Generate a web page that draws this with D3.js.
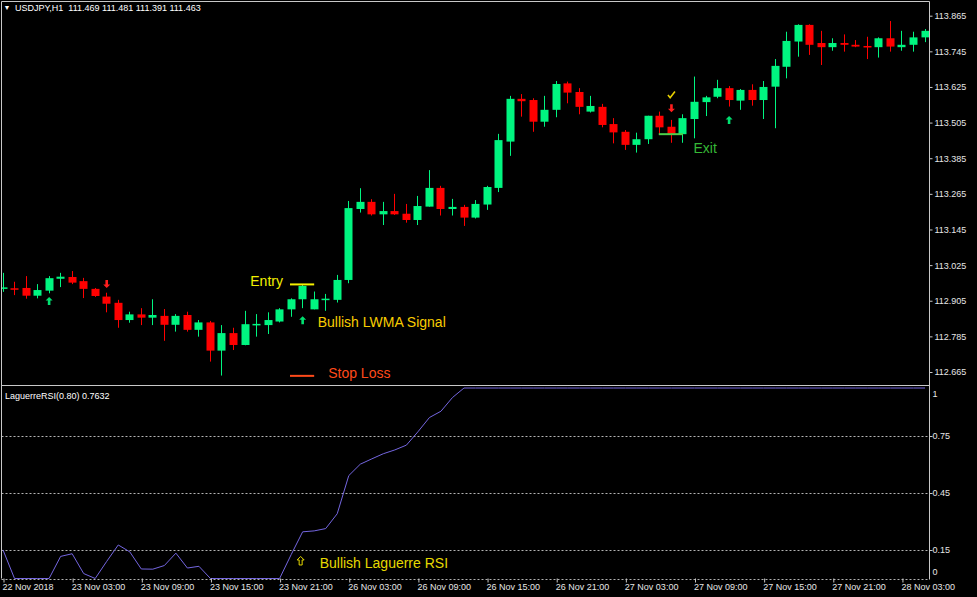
<!DOCTYPE html>
<html><head><meta charset="utf-8">
<script src="https://cdn.jsdelivr.net/npm/d3@7"></script>
<style>
html,body{margin:0;padding:0;background:#000;}
svg{display:block;}
text{font-family:"Liberation Sans",Arial,sans-serif;}
</style></head><body>
<svg id="c" width="977" height="597"></svg>
<script>
// ---------- DATA ----------
const opens = [112.946,112.947,112.948,112.922,112.939,112.979,112.985,112.971,112.945,112.919,
112.898,112.840,112.859,112.848,112.854,112.824,112.857,112.807,112.832,112.737,
112.796,112.756,112.823,112.823,112.835,112.876,112.910,112.876,112.908,112.908,
112.975,113.214,113.238,113.196,113.207,113.198,113.177,113.222,113.285,113.214,
113.221,113.185,113.229,113.285,113.441,113.585,113.581,113.508,113.548,113.637,
113.608,113.542,113.558,113.500,113.474,113.430,113.449,113.528,113.491,113.466,
113.517,113.574,113.592,113.621,113.579,113.615,113.581,113.626,113.693,113.778,
113.834,113.773,113.759,113.773,113.767,113.763,113.759,113.789,113.759,113.767,
113.792];
const highs = [112.999,112.969,112.988,112.961,112.988,112.999,113.005,112.982,112.948,112.932,
112.908,112.868,112.880,112.910,112.877,112.860,112.868,112.840,112.837,112.823,
112.814,112.871,112.860,112.866,112.880,112.913,112.958,112.936,112.928,112.992,
113.241,113.284,113.247,113.238,113.265,113.231,113.258,113.345,113.292,113.248,
113.228,113.244,113.292,113.467,113.595,113.601,113.587,113.595,113.645,113.643,
113.621,113.595,113.568,113.520,113.480,113.471,113.528,113.542,113.514,113.533,
113.660,113.595,113.649,113.628,113.618,113.634,113.645,113.719,113.811,113.836,
113.836,113.814,113.789,113.802,113.783,113.794,113.792,113.847,113.814,113.811,
113.820];
const lows = [112.935,112.924,112.912,112.913,112.930,112.951,112.961,112.914,112.918,112.866,
112.814,112.831,112.823,112.823,112.770,112.801,112.801,112.784,112.700,112.653,
112.739,112.755,112.784,112.793,112.832,112.851,112.880,112.876,112.871,112.899,
112.964,113.202,113.192,113.160,113.194,113.168,113.160,113.222,113.192,113.192,
113.157,113.182,113.211,113.271,113.393,113.525,113.474,113.491,113.523,113.570,
113.533,113.539,113.489,113.435,113.413,113.404,113.433,113.463,113.437,113.437,
113.452,113.527,113.587,113.559,113.548,113.562,113.517,113.486,113.654,113.727,
113.733,113.699,113.747,113.744,113.759,113.719,113.724,113.744,113.747,113.744,
113.776];
const closes = [112.950,112.944,112.922,112.941,112.981,112.986,112.966,112.945,112.921,112.895,
112.840,112.859,112.848,112.857,112.824,112.854,112.807,112.832,112.737,112.796,
112.756,112.826,112.827,112.840,112.876,112.910,112.955,112.910,112.912,112.975,
113.217,113.238,113.196,113.207,113.196,113.177,113.224,113.285,113.214,113.221,
113.185,113.231,113.288,113.446,113.585,113.577,113.508,113.548,113.635,113.606,
113.558,113.561,113.497,113.472,113.430,113.449,113.528,113.489,113.467,113.520,
113.575,113.590,113.621,113.581,113.615,113.581,113.625,113.696,113.780,113.834,
113.767,113.759,113.773,113.767,113.761,113.759,113.789,113.761,113.767,113.792,
113.814];
const laguerre = [0.15,0,0,0,0,0.116,0.13,0.026,0,0.09,
0.176,0.14,0.05,0.049,0.068,0.133,0.055,0.064,0,0,
0,0,0,0,0,0.125,0.245,0.25,0.262,0.34,
0.54,0.60,0.628,0.655,0.675,0.70,0.77,0.845,0.878,0.95,
1,1,1,1,1,1,1,1,1,1,
1,1,1,1,1,1,1,1,1,1,
1,1,1,1,1,1,1,1,1,1,
1,1,1,1,1,1,1,1,1,1,
1];
const priceTicks = [112.665,112.785,112.905,113.025,113.145,113.265,113.385,113.505,113.625,113.745,113.865];
const rsiLevels = [0.75,0.45,0.15,0];
const rsiTickLabels = ["1","0.75","0.45","0.15","0"];
const rsiTickValues = [1,0.75,0.45,0.15,0];
const timeLabels = ["22 Nov 2018","23 Nov 03:00","23 Nov 09:00","23 Nov 15:00","23 Nov 21:00","26 Nov 03:00","26 Nov 09:00","26 Nov 15:00","26 Nov 21:00","27 Nov 03:00","27 Nov 09:00","27 Nov 15:00","27 Nov 21:00","28 Nov 03:00"];
const timeLabelBars = [0,6,12,18,24,30,36,42,48,54,60,66,72,78];
const upArrowBars = [4,26,63];
const upArrowPrices = [112.904,112.839,113.514];
const downArrowBars = [9,58];
const downArrowPrices = [112.961,113.553];
const checkBars = [58];
const checkPrices = [113.598];
const entryBar = 26, entryPrice = 112.960, stopPrice = 112.652;
const exitBar = 58, exitPrice = 113.466;
const rsiSignalBar = 26, rsiSignalValue = 0.092;
const headerText = "USDJPY,H1  111.469 111.481 111.391 111.463";
const rsiHeader = "LaguerreRSI(0.80) 0.7632";

// ---------- LAYOUT ----------
const svg = d3.select("#c");
const L = 1.5, R = 929.5, T = 1.5, SEP = 385.5, B = 578.5;
const frameColor = "#c8c8c8";
const bull = "#00F580", bear = "#FF0000";

const x = d3.scaleLinear().domain([0, 80]).range([3, 925]);
const y = d3.scaleLinear().domain([112.665, 113.865]).range([372, 15.7]);
const yr = d3.scaleLinear().domain([0, 1]).range([578.5, 388]);

svg.append("rect").attr("width", 977).attr("height", 597).attr("fill", "#000");

const defs = svg.append("defs");
defs.append("clipPath").attr("id", "mainClip").append("rect")
  .attr("x", L + 0.5).attr("y", T + 0.5).attr("width", R - L - 1).attr("height", SEP - T - 1);
defs.append("clipPath").attr("id", "subClip").append("rect")
  .attr("x", L + 0.5).attr("y", SEP + 0.5).attr("width", R - L - 1).attr("height", B - SEP + 1);

// ---------- CANDLES ----------
const bars = d3.range(opens.length).map(i => ({i, o: opens[i], h: highs[i], l: lows[i], c: closes[i]}));
const gMain = svg.append("g").attr("clip-path", "url(#mainClip)");
const cg = gMain.selectAll("g.candle").data(bars).join("g").attr("class", "candle");
cg.append("line")
  .attr("x1", d => Math.floor(x(d.i)) + 0.5).attr("x2", d => Math.floor(x(d.i)) + 0.5)
  .attr("y1", d => y(d.h)).attr("y2", d => y(d.l))
  .attr("stroke", d => d.c >= d.o ? bull : bear).attr("stroke-width", 1);
cg.append("rect")
  .attr("x", d => Math.floor(x(d.i)) - 3.5)
  .attr("width", 8)
  .attr("y", d => y(Math.max(d.o, d.c)))
  .attr("height", d => Math.max(1.5, Math.abs(y(d.o) - y(d.c))))
  .attr("fill", d => d.c >= d.o ? bull : bear);

// arrows
const upPath = "M0,-4 L3.5,-0.5 L1.3,-0.5 L1.3,4 L-1.3,4 L-1.3,-0.5 L-3.5,-0.5 Z";
const downPath = "M0,4 L3.5,0.5 L1.3,0.5 L1.3,-4 L-1.3,-4 L-1.3,0.5 L-3.5,0.5 Z";
gMain.selectAll("path.up").data(upArrowBars).join("path").attr("class", "up")
  .attr("d", upPath).attr("fill", "#00E070")
  .attr("transform", (d, i) => `translate(${x(d)},${y(upArrowPrices[i])})`);
gMain.selectAll("path.down").data(downArrowBars).join("path").attr("class", "down")
  .attr("d", downPath).attr("fill", "#FF1E1E")
  .attr("transform", (d, i) => `translate(${x(d)},${y(downArrowPrices[i])})`);
gMain.selectAll("path.check").data(checkBars).join("path").attr("class", "check")
  .attr("d", "M-3.5,0 L-1.3,2.8 L3.5,-3.5").attr("fill", "none")
  .attr("stroke", "#E8D000").attr("stroke-width", 1.6)
  .attr("transform", (d, i) => `translate(${x(d)},${y(checkPrices[i])})`);

// entry / stop / exit lines
const lvl = (bar, price, color) => gMain.append("line")
  .attr("x1", x(bar - 1.1)).attr("x2", x(bar + 1))
  .attr("y1", y(price)).attr("y2", y(price))
  .attr("stroke", color).attr("stroke-width", 2);
lvl(entryBar, entryPrice, "#F5F000");
lvl(entryBar, stopPrice, "#FF4A1A");
lvl(exitBar, exitPrice, "#4CD04C");

const ann = (txt, xx, yy, color, anchor) => gMain.append("text")
  .attr("x", xx).attr("y", yy).attr("fill", color).attr("font-size", 14)
  .attr("text-anchor", anchor || "start").text(txt);
ann("Entry", x(entryBar - 1.1) - 7, y(entryPrice) + 2, "#F2F000", "end");
ann("Bullish LWMA Signal", x(entryBar) + 15, y(upArrowPrices[1]) + 7, "#F8CC00");
ann("Stop Loss", x(entryBar + 1) + 14, y(stopPrice) + 2.3, "#FF4A1A");
ann("Exit", x(exitBar) + 22, y(exitPrice) + 19, "#36B836");

// ---------- LAGUERRE PANEL ----------
const gSub = svg.append("g");
gSub.selectAll("line.lvl").data(rsiLevels).join("line").attr("class", "lvl")
  .attr("x1", L).attr("x2", R).attr("y1", d => Math.round(yr(d)) + 0.5).attr("y2", d => Math.round(yr(d)) + 0.5)
  .attr("stroke", "#b4b4b4").attr("stroke-width", 1).attr("stroke-dasharray", "2,2");

gSub.append("path").attr("clip-path", "url(#subClip)")
  .datum(laguerre)
  .attr("d", d3.line().x((d, i) => x(i)).y(d => yr(d)))
  .attr("fill", "none").attr("stroke", "#7466E0").attr("stroke-width", 1);

gSub.append("path")
  .attr("d", "M0,-4.5 L3.5,-1 L1.5,-1 L1.5,4 L-1.5,4 L-1.5,-1 L-3.5,-1 Z")
  .attr("fill", "none").attr("stroke", "#E6D800").attr("stroke-width", 1)
  .attr("transform", `translate(${x(rsiSignalBar) - 2},${yr(rsiSignalValue)})`);
gSub.append("text").attr("x", x(rsiSignalBar) + 17).attr("y", yr(rsiSignalValue) + 7.3)
  .attr("fill", "#E6D800").attr("font-size", 14).text("Bullish Laguerre RSI");

// ---------- FRAMES ----------
const fr = svg.append("g").attr("stroke", frameColor).attr("stroke-width", 1);
fr.append("line").attr("x1", L).attr("x2", R).attr("y1", T).attr("y2", T);
fr.append("line").attr("x1", L).attr("x2", L).attr("y1", T).attr("y2", B);
fr.append("line").attr("x1", R).attr("x2", R).attr("y1", T).attr("y2", B + 1);
fr.append("line").attr("x1", L).attr("x2", R).attr("y1", SEP).attr("y2", SEP);

// ---------- AXES ----------
const pAxis = svg.append("g").attr("transform", `translate(${R},0)`)
  .call(d3.axisRight(y).tickValues(priceTicks).tickFormat(d3.format(".3f")).tickSize(3).tickPadding(2));
pAxis.select(".domain").remove();
pAxis.selectAll("line").attr("stroke", frameColor);
pAxis.selectAll("text").attr("fill", "#e6e6e6").attr("font-size", 9)
  .attr("font-family", "'Liberation Sans',Arial,sans-serif");

const rAxis = svg.append("g");
rAxis.selectAll("line").data(rsiTickValues.slice(1, 4)).join("line")
  .attr("x1", R).attr("x2", R + 3).attr("y1", d => Math.round(yr(d)) + 0.5).attr("y2", d => Math.round(yr(d)) + 0.5)
  .attr("stroke", frameColor);
rAxis.selectAll("text").data(rsiTickValues).join("text")
  .attr("x", R + 3)
  .attr("y", d => d === 1 ? yr(d) + 6 : d === 0 ? yr(d) - 6 : yr(d))
  .attr("dy", "0.32em").attr("fill", "#e6e6e6").attr("font-size", 9)
  .text((d, i) => rsiTickLabels[i]);

const tAxis = svg.append("g").attr("transform", `translate(0,${B})`)
  .call(d3.axisBottom(x).tickValues(timeLabelBars).tickFormat((d, i) => timeLabels[i]).tickSize(4));
tAxis.select(".domain").remove();
tAxis.selectAll("line").attr("stroke", frameColor).attr("transform", "translate(0.5,0)");
tAxis.selectAll("text").attr("text-anchor", "start").attr("dx", -1).attr("y", 5)
  .attr("fill", "#e6e6e6").attr("font-size", 9).attr("font-family", "'Liberation Sans',Arial,sans-serif");

// ---------- HEADERS ----------
svg.append("text").attr("x", 3.5).attr("y", 9.5).attr("font-size", 7)
  .attr("font-family", "'DejaVu Sans',sans-serif").attr("fill", "#fff").text("▼");
svg.append("text").attr("x", 15).attr("y", 11).attr("font-size", 9).attr("fill", "#fff")
  .style("white-space", "pre").text(headerText);
svg.append("text").attr("x", 5).attr("y", 399).attr("font-size", 9).attr("fill", "#fff")
  .text(rsiHeader);
</script>
</body></html>
